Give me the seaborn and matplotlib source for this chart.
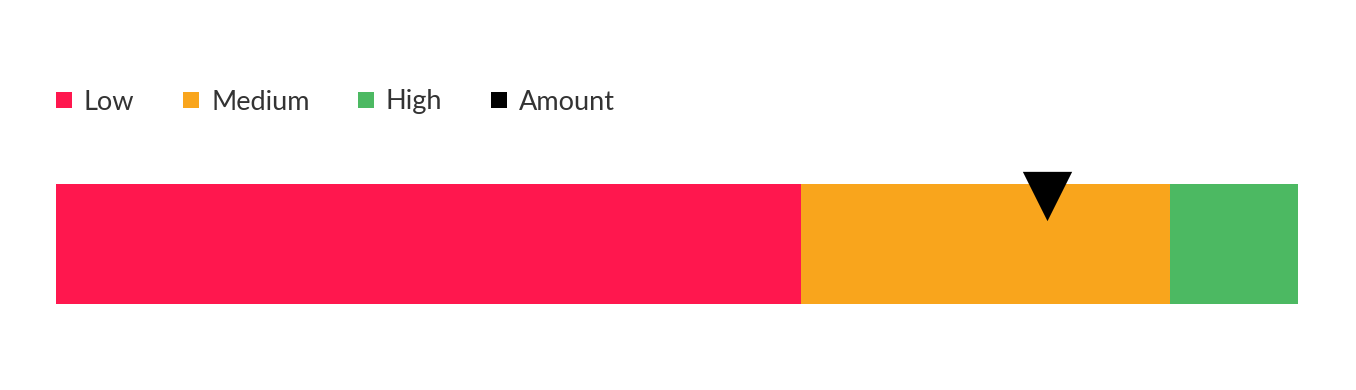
import matplotlib
matplotlib.use("Agg")
import matplotlib.pyplot as plt
from matplotlib.lines import Line2D
import seaborn as sns
import pandas as pd
import numpy as np

# Data
categories = ["Low", "Medium", "High"]
values = [60.0, 29.7, 10.3]
amount = 79.8
colors = ["#FF174E", "#F9A51C", "#4CB962"]
marker_color = "#000000"

sns.set_theme(style="white")
plt.rcParams["font.family"] = ["Lato", "DejaVu Sans"]

fig = plt.figure(figsize=(13.56, 3.9), dpi=100)
ax = fig.add_axes([56 / 1356, (390 - 304) / 390, 1242 / 1356, 120 / 390])

cum = np.cumsum(values)
df = pd.DataFrame({"category": categories, "end": cum, "row": ["bar"] * 3})

# draw cumulative bars from largest to smallest so they stack visually
for i in reversed(range(len(categories))):
    sns.barplot(data=df.iloc[[i]], x="end", y="row", orient="h", color=colors[i],
                width=1.0, saturation=1, ax=ax, linewidth=0)

# marker centre slightly below the top edge of the bar (bar spans -0.5..0.5)
mdf = pd.DataFrame({"x": [amount], "y": [-0.5 + 0.1]})
sns.scatterplot(data=mdf, x="x", y="y", marker="v", s=35.5 ** 2, color=marker_color,
                linewidth=0, ax=ax, clip_on=False, zorder=5)

ax.set_xlim(0, sum(values))
ax.set_ylim(0.5, -0.5)
ax.set_axis_off()

fs = 19.5
fpx = fs / 0.72
handles = [Line2D([], [], marker="s", linestyle="none", markersize=11.5,
                  markerfacecolor=c, markeredgewidth=0) for c in colors + [marker_color]]
labels = categories + ["Amount"]
leg = fig.legend(handles, labels, loc="center left", bbox_to_anchor=(56 / 1356, 1 - 102 / 390),
                 ncol=4, frameon=False, fontsize=fs, handlelength=16 / fpx,
                 handletextpad=12 / fpx, columnspacing=48.5 / fpx, borderpad=0, borderaxespad=0)
for t in leg.get_texts():
    t.set_color("#333333")

fig.savefig("out.png", dpi=100)
